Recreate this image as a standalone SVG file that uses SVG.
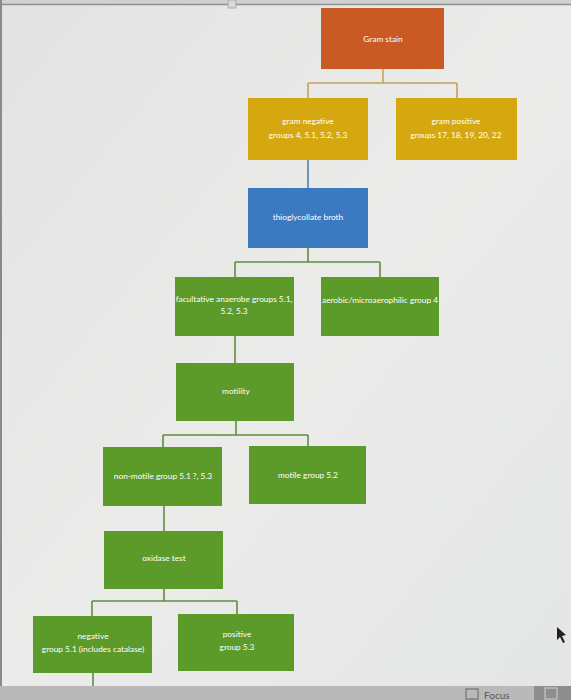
<svg xmlns="http://www.w3.org/2000/svg" width="571" height="700" viewBox="0 0 571 700">
<style>
.box{stroke:none}
.or{fill:#c95a23}
.go{fill:#d6a80f}
.bl{fill:#3b79c1}
.gr{fill:#5c9a2a}
.t{font-family:Lato,"Open Sans","Liberation Sans",sans-serif;font-size:8.3px;fill:#ffffff;text-anchor:middle}
.c{fill:none;stroke-width:1.6}
.cg{stroke:#c4a35a}
.cb{stroke:#4f7fb8}
.cn{stroke:#5e8f3c}
</style>
<defs>
<linearGradient id="bg" x1="0" y1="0" x2="1" y2="1">
<stop offset="0" stop-color="#e2e3e2"/>
<stop offset="0.5" stop-color="#ebebea"/>
<stop offset="1" stop-color="#e4e6e6"/>
</linearGradient>
</defs>
<rect x="0" y="0" width="571" height="700" fill="url(#bg)"/>
<rect x="0" y="0" width="571" height="4" fill="#d0d0d0"/>
<line x1="0" y1="4.5" x2="571" y2="4.5" stroke="#8f8f8f" stroke-width="1.5"/>
<rect x="228" y="0" width="8" height="8" fill="#d8d8d8" stroke="#a0a0a0" stroke-width="0.8"/>
<rect x="0" y="0" width="2" height="700" fill="#8a8a8a"/>

<g id="connectors">
<path class="c cg" d="M383 69 V83 M308 83 H457 M308 83 V98 M457 83 V98"/>
<path class="c cb" d="M308 160 V188"/>
<path class="c cn" d="M308 248 V262 M235 262 H380 M235 262 V277 M380 262 V277"/>
<path class="c cn" d="M235 336 V363"/>
<path class="c cn" d="M236 421 V435 M163 435 H308 M163 435 V447 M308 435 V447"/>
<path class="c cn" d="M164 506 V531"/>
<path class="c cn" d="M164 589 V601 M92 601 H237 M92 601 V616 M237 601 V614"/>
<path class="c cn" d="M93 673 V690"/>
</g>

<g id="gram-stain"><rect class="box or" x="321" y="8" width="123" height="61"/><text class="t" x="383" y="42">Gram stain</text></g>
<g id="gram-negative"><rect class="box go" x="248" y="98" width="120" height="62"/><text class="t" x="308" y="124">gram negative</text><text class="t" x="308" y="138">groups 4, 5.1, 5.2, 5.3</text></g>
<g id="gram-positive"><rect class="box go" x="396" y="98" width="121" height="62"/><text class="t" x="456" y="124">gram positive</text><text class="t" x="456" y="138">groups 17, 18, 19, 20, 22</text></g>
<g id="thioglycollate"><rect class="box bl" x="248" y="188" width="120" height="60"/><text class="t" x="308" y="220">thioglycollate broth</text></g>
<g id="facultative"><rect class="box gr" x="175" y="277" width="119" height="59"/><text class="t" x="234" y="302">facultative anaerobe groups 5.1,</text><text class="t" x="234" y="314">5.2, 5.3</text></g>
<g id="aerobic"><rect class="box gr" x="321" y="277" width="118" height="59"/><text class="t" x="380" y="303">aerobic/microaerophilic group 4</text></g>
<g id="motility"><rect class="box gr" x="176" y="363" width="118" height="58"/><text class="t" x="236" y="394">motility</text></g>
<g id="non-motile"><rect class="box gr" x="103" y="447" width="119" height="59"/><text class="t" x="163" y="479">non-motile group 5.1 ?, 5.3</text></g>
<g id="motile"><rect class="box gr" x="249" y="446" width="117" height="58"/><text class="t" x="308" y="478">motile group 5.2</text></g>
<g id="oxidase"><rect class="box gr" x="104" y="531" width="119" height="58"/><text class="t" x="164" y="561">oxidase test</text></g>
<g id="negative"><rect class="box gr" x="33" y="616" width="119" height="57"/><text class="t" x="93" y="639">negative</text><text class="t" x="93" y="652">group 5.1 (includes catalase)</text></g>
<g id="positive"><rect class="box gr" x="178" y="614" width="116" height="57"/><text class="t" x="237" y="637">positive</text><text class="t" x="237" y="650">group 5.3</text></g>

<polygon points="557,627 557,640 560,637 563,643 565,642 562,636 566,635" fill="#222"/>
<rect x="0" y="686" width="571" height="14" fill="#b9b9b9"/>
<rect x="466" y="689" width="12" height="10" fill="none" stroke="#666" stroke-width="1"/>
<text x="484" y="699" font-family="Lato,'Liberation Sans',sans-serif" font-size="10" fill="#555">Focus</text>
<rect x="534" y="686" width="37" height="14" fill="#8e8e8e"/>
<rect x="545" y="688" width="12" height="11" fill="none" stroke="#d0d0d0" stroke-width="1"/>
</svg>
